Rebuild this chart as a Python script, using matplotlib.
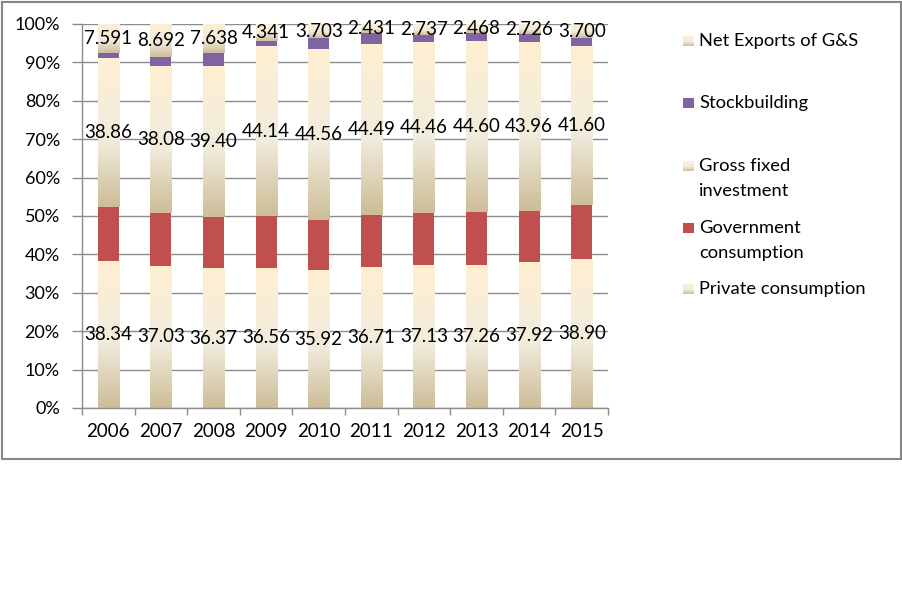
import numpy as np
import matplotlib
matplotlib.use("Agg")
import matplotlib.pyplot as plt
from matplotlib.patches import Rectangle
from matplotlib.colors import LinearSegmentedColormap

years = ["2006", "2007", "2008", "2009", "2010", "2011", "2012", "2013", "2014", "2015"]
private_consumption = [38.34, 37.03, 36.37, 36.56, 35.92, 36.71, 37.13, 37.26, 37.92, 38.90]
government_consumption = [14.0, 13.7, 13.4, 13.5, 13.1, 13.6, 13.7, 13.9, 13.5, 14.0]
gross_fixed_investment = [38.86, 38.08, 39.40, 44.14, 44.56, 44.49, 44.46, 44.60, 43.96, 41.60]
stockbuilding = [1.3, 2.3, 3.3, 1.5, 2.9, 2.9, 1.9, 1.9, 1.9, 2.1]
net_exports = [7.591, 8.692, 7.638, 4.341, 3.703, 2.431, 2.737, 2.468, 2.726, 3.700]
yticks = [0, 10, 20, 30, 40, 50, 60, 70, 80, 90, 100]

FONT = "Lato"
plt.rcParams["font.family"] = [FONT, "DejaVu Sans"]

W, H = 903, 614
fig = plt.figure(figsize=(W / 100, H / 100), dpi=100)

grad_cmap = LinearSegmentedColormap.from_list(
    "parch", [(0.0, "#CDBD97"), (0.45, "#F1ECDD"), (1.0, "#FFEFD2")])
grad = np.linspace(0, 1, 256).reshape(-1, 1)
RED = "#C0504D"
PURPLE = "#8064A2"
GRID = "#8C8C8C"

# background axes for frame and legend (pixel coordinates)
bg = fig.add_axes([0, 0, 1, 1], zorder=0)
bg.set_xlim(0, W)
bg.set_ylim(H, 0)
bg.axis("off")
bg.add_patch(Rectangle((2, 1.5), 899, 457.5, fill=False, edgecolor="#868686", lw=1.5))

ax = fig.add_axes([82 / W, 1 - 408 / H, (608 - 82) / W, (408 - 24) / H], zorder=1)
ax.patch.set_alpha(0)

series = [private_consumption, government_consumption, gross_fixed_investment,
          stockbuilding, net_exports]
arr = np.array(series, dtype=float)
totals = arr.sum(axis=0)
pct = arr / totals * 100

x = np.arange(len(years))
bw = 0.4
bottom = np.zeros(len(years))
gradient_series = {0, 2, 4}
colors = {1: RED, 3: PURPLE}
for i in range(len(series)):
    if i in gradient_series:
        bars = ax.bar(x, pct[i], bw, bottom=bottom, color="none", edgecolor="none", zorder=2)
        for b in bars:
            bx, by = b.get_x(), b.get_y()
            ax.imshow(grad, cmap=grad_cmap, origin="lower", aspect="auto",
                      extent=[bx, bx + b.get_width(), by, by + b.get_height()],
                      zorder=2, interpolation="bilinear")
    else:
        ax.bar(x, pct[i], bw, bottom=bottom, color=colors[i], edgecolor="none", zorder=2)
    bottom = bottom + pct[i]

# data labels
cum = np.cumsum(pct, axis=0)
label_specs = [(0, private_consumption, "{:.2f}"), (2, gross_fixed_investment, "{:.2f}"),
               (4, net_exports, "{:.3f}")]
for idx, vals, fmt in label_specs:
    for j in range(len(years)):
        top = cum[idx, j]
        bot = top - pct[idx, j]
        ax.text(x[j], (top + bot) / 2, fmt.format(vals[j]), ha="center", va="center",
                fontsize=13.5, color="black", zorder=4)

ax.set_xlim(-0.5, len(years) - 0.5)
ax.set_ylim(0, 100)
ax.set_yticks(yticks)
ax.set_yticklabels([f"{t}%" for t in yticks], fontsize=13)
ax.set_xticks(x)
ax.set_xticklabels(years, fontsize=13.5)
ax.set_xticks(np.arange(-0.5, len(years), 1), minor=True)
ax.tick_params(axis="x", which="major", length=0, pad=11)
ax.tick_params(axis="x", which="minor", length=5, color=GRID, width=1)
ax.tick_params(axis="y", length=7, color=GRID, width=1, pad=9)
ax.grid(axis="y", color=GRID, lw=1, zorder=0)
ax.set_axisbelow(True)
for s in ["top", "right"]:
    ax.spines[s].set_visible(False)
for s in ["left", "bottom"]:
    ax.spines[s].set_color(GRID)
    ax.spines[s].set_linewidth(1)
    ax.spines[s].set_zorder(3)

# legend
legend_entries = [
    ("Net Exports of G&S", 41, "grad"),
    ("Stockbuilding", 103, PURPLE),
    ("Gross fixed\ninvestment", 166, "grad"),
    ("Government\nconsumption", 228, RED),
    ("Private consumption", 289, "grad"),
]
for label, yc, col in legend_entries:
    if col == "grad":
        bg.imshow(grad[::-1], cmap=grad_cmap, aspect="auto", extent=[683, 694, yc + 5, yc - 5],
                  interpolation="bilinear")
    else:
        bg.add_patch(Rectangle((683, yc - 5), 11, 10, color=col, lw=0))
    for k, line in enumerate(label.split("\n")):
        bg.text(699, yc + k * 25, line, ha="left", va="center", fontsize=13.2)
bg.set_xlim(0, W)
bg.set_ylim(H, 0)

fig.savefig("out.png", dpi=100)
